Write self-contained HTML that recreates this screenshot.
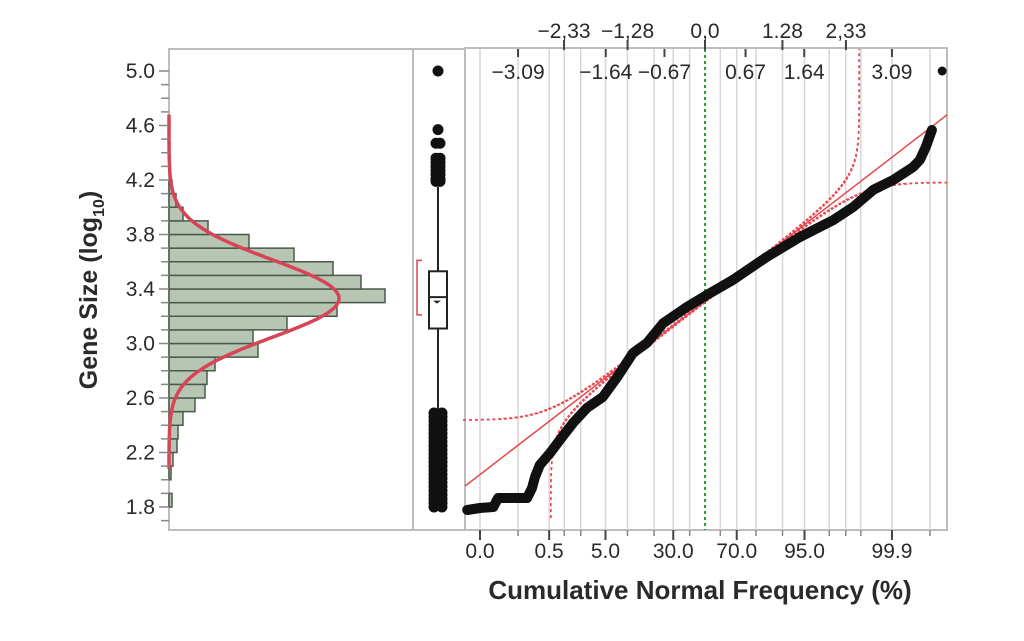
<!DOCTYPE html>
<html><head><meta charset="utf-8"><style>
html,body{margin:0;padding:0;background:#fff;}
svg text{font-family:"Liberation Sans",sans-serif;fill:#2a2a2a;}
</style></head><body>
<svg id="chart" width="1024" height="636" viewBox="0 0 1024 636" xmlns="http://www.w3.org/2000/svg">
<g id="frames"></g>
<g id="grid"></g>
<g id="hist"></g>
<g id="box"></g>
<g id="qq"></g>
<g id="axes"></g>
<text transform="translate(97,290) rotate(-90)" text-anchor="middle" font-size="25" font-weight="bold">Gene Size (log<tspan font-size="16" dy="7">10</tspan><tspan dy="-7">)</tspan></text>
<text x="700" y="599" text-anchor="middle" font-size="26" font-weight="bold">Cumulative Normal Frequency (%)</text>
</svg>
<script>
// ---- data ----
const binStarts = [1.8,1.9,2.0,2.1,2.2,2.3,2.4,2.5,2.6,2.7,2.8,2.9,3.0,3.1,3.2,3.3,3.4,3.5,3.6,3.7,3.8,3.9,4.0,4.1];
const binCounts = [3,0,2,4,8,9,14,26,36,38,46,89,84,118,168,216,192,164,125,80,39,14,7,3];
const binWidth = [0.1];
const normParams = [3.33, 0.285, 170]; // mean, sd, peak count
const boxStats = [2.51, 3.11, 3.34, 3.53, 4.15]; // whisker low, q1, median, q3, whisker high
const boxMean = [3.30];
const shortestHalf = [3.21, 3.61];
const outliers = [5.0,4.57,4.47,4.36,4.33,4.30,4.27,4.24,4.21,4.19,
 2.49,2.46,2.43,2.40,2.37,2.34,2.31,2.28,2.25,2.22,2.19,2.16,2.13,2.10,2.07,2.04,2.01,1.98,1.95,1.92,1.89,1.86,1.83,1.80];
const qqZ = [-3.93,-3.72,-3.50,-3.42,-2.94,-2.86,-2.81,-2.73,-2.56,-2.40,-2.18,-1.95,-1.69,-1.45,-1.19,-0.96,-0.69,-0.30,0.03,0.46,1.02,1.57,2.12,2.45,2.78,3.11,3.44,3.55,3.65,3.75,3.92];
const qqV = [1.778,1.793,1.800,1.866,1.866,1.939,2.020,2.108,2.196,2.292,2.417,2.527,2.607,2.754,2.930,3.004,3.150,3.268,3.356,3.466,3.635,3.782,3.906,4.002,4.127,4.200,4.295,4.347,4.442,4.567,5.0];
const fitLine = [3.31, 0.342]; // mean, sd
const bandWidth = [0.0054];
const yTicks = [1.8,2.2,2.6,3.0,3.4,3.8,4.2,4.6,5.0];
const gridPct = [0.01,0.1,0.5,1,2,5,10,20,30,40,60,70,80,90,95,98,99,99.5,99.9,99.99];
const bottomLabelPct = [0.01,0.5,5,30,70,95,99.9];
const bottomLabelText = ["0.0","0.5","5.0","30.0","70.0","95.0","99.9"];
const topMajor = [-2.33,-1.28,0.0,1.28,2.33];
const topMajorText = ["\u22122,33","\u22121,28","0,0","1.28","2,33"];
const topMinor = [-3.09,-1.64,-0.67,0.67,1.64,3.09];
const topMinorText = ["\u22123.09","\u22121.64","\u22120.67","0.67","1.64","3.09"];

// ---- scales ----
const NS="http://www.w3.org/2000/svg";
const Y = v => 71 + (5 - v) * 136.25;
const HX = c => 169 + c;
const QX = z => 705 + z * 60.5;
function invNorm(p){
 const a=[-39.69683028665376,220.9460984245205,-275.9285104469687,138.3577518672690,-30.66479806614716,2.506628277459239];
 const b=[-54.47609879822406,161.5858368580409,-155.6989798598866,66.80131188771972,-13.28068155288572];
 const c=[-0.007784894002430293,-0.3223964580411365,-2.400758277161838,-2.549732539343734,4.374664141464968,2.938163982698783];
 const d=[0.007784695709041462,0.3224671290700398,2.445134137142996,3.754408661907416];
 const pl=0.02425; let q,r;
 if(p<pl){q=Math.sqrt(-2*Math.log(p));return (((((c[0]*q+c[1])*q+c[2])*q+c[3])*q+c[4])*q+c[5])/((((d[0]*q+d[1])*q+d[2])*q+d[3])*q+1);}
 if(p>1-pl){q=Math.sqrt(-2*Math.log(1-p));return -(((((c[0]*q+c[1])*q+c[2])*q+c[3])*q+c[4])*q+c[5])/((((d[0]*q+d[1])*q+d[2])*q+d[3])*q+1);}
 q=p-0.5;r=q*q;return (((((a[0]*r+a[1])*r+a[2])*r+a[3])*r+a[4])*r+a[5])*q/(((((b[0]*r+b[1])*r+b[2])*r+b[3])*r+b[4])*r+1);
}
function cdf(z){const t=1/(1+0.2316419*Math.abs(z));const d=0.3989423*Math.exp(-z*z/2);let p=d*t*(0.3193815+t*(-0.3565638+t*(1.781478+t*(-1.821256+t*1.330274))));return z>0?1-p:p;}
function el(tag,attrs,parent){const e=document.createElementNS(NS,tag);for(const k in attrs)e.setAttribute(k,attrs[k]);parent.appendChild(e);return e;}
const $=id=>document.getElementById(id);

// frames
const fr=$('frames');
let f;
f=el('rect',{x:169,y:49,width:244,height:481,fill:'none',stroke:'#bdbdbd','stroke-width':2},fr);


f=el('rect',{x:413,y:49,width:52,height:481,fill:'none',stroke:'#bdbdbd','stroke-width':2},fr);


f=el('rect',{x:465,y:48,width:482,height:482,fill:'none',stroke:'#bdbdbd','stroke-width':2},fr);



// grid
const gr=$('grid');
gridPct.forEach(p=>{const x=QX(invNorm(p/100));
 const l=el('line',{x1:x,x2:x,y1:49,y2:530,stroke:'#d6d6d6','stroke-width':1.5},gr);
 
 
 const t=el('line',{x1:x,x2:x,y1:530,y2:536,stroke:'#888','stroke-width':1.5},gr);
 
 
});
let gl=el('line',{x1:QX(0),x2:QX(0),y1:49,y2:530,stroke:'#2ca02c','stroke-width':2,'stroke-dasharray':'3,3'},gr);



// histogram
const hg=$('hist');
binStarts.forEach((b,i)=>{if(binCounts[i]<=0)return;
 const r=el('rect',{x:HX(0),y:Y(b+binWidth[0]),width:binCounts[i],height:Y(b)-Y(b+binWidth[0]),fill:'#b7c6b3',stroke:'#4a5a4a','stroke-width':1.5},hg);
 
 
});
let pd='';for(let v=4.68;v>=2.08;v-=0.01){const c=normParams[2]*Math.exp(-Math.pow((v-normParams[0])/normParams[1],2)/2);pd+=(pd?'L':'M')+HX(c).toFixed(1)+','+Y(v).toFixed(1);}
let nc=el('path',{d:pd,fill:'none',stroke:'#d84457','stroke-width':3.5},hg);



// box plot
const bx=$('box');const cx=438;
let w=el('line',{x1:cx,x2:cx,y1:Y(boxStats[4]),y2:Y(boxStats[0]),stroke:'#222','stroke-width':2},bx);


let br=el('rect',{x:429,y:Y(boxStats[3]),width:18,height:Y(boxStats[1])-Y(boxStats[3]),fill:'#fff',stroke:'#222','stroke-width':2},bx);


let md=el('line',{x1:429,x2:447,y1:Y(boxStats[2]),y2:Y(boxStats[2]),stroke:'#222','stroke-width':2},bx);


let mm=el('path',{d:`M433,${Y(boxMean[0])-2}L441,${Y(boxMean[0])-2}L437,${Y(boxMean[0])+1}Z`,fill:'#222'},bx);


let sh=el('path',{d:`M422,${Y(shortestHalf[1])}H417V${Y(shortestHalf[0])}H422`,fill:'none',stroke:'#d84457','stroke-width':1.5},bx);


outliers.forEach((v,i)=>{
 const many = i>=2;
 const offs = i<10 ? [-2,2] : [-4,4];
 offs.forEach(o=>{
  if(!many && o>0) return;
  const c=el('circle',{cx:cx+(many?o:0),cy:Y(v),r:5.5,fill:'#111'},bx);
  
  
 });
});

// qq plot
const qg=$('qq');
let fl=el('line',{x1:465,x2:947,y1:Y(fitLine[0]+fitLine[1]*(465-705)/60.5),y2:Y(fitLine[0]+fitLine[1]*(947-705)/60.5),stroke:'#e8474f','stroke-width':1.5},qg);


[1,-1].forEach(s=>{let d='';let done=false;
 for(let z=-4;z<=4.001&&!done;z+=0.0002){let p=cdf(z)+s*bandWidth[0];let y;
  if(p>=1-1e-12){y=49;done=true;} else if(p<=1e-12){continue;}
  else {y=Y(fitLine[0]+fitLine[1]*invNorm(p));}
  if(y<49){y=49;done=true;}
  if(y>530){d='M'+QX(z).toFixed(1)+',530';continue;}
  d+=(d?'L':'M')+QX(z).toFixed(1)+','+y.toFixed(1);}
 const b=el('path',{d:d,fill:'none',stroke:'#e8474f','stroke-width':1.8,'stroke-dasharray':'3,3'},qg);
 
 
});
let qd='';qqZ.forEach((z,i)=>{if(i<qqZ.length-1)qd+=(qd?'L':'M')+QX(z).toFixed(1)+','+Y(qqV[i]).toFixed(1);});
let qp=el('path',{d:qd,fill:'none',stroke:'#111','stroke-width':10,'stroke-linejoin':'round','stroke-linecap':'round'},qg);


qqZ.forEach((z,i)=>{
 const c=el('circle',{cx:QX(z),cy:Y(qqV[i]),r:4.5,fill:'#111'},qg);
 
 
});

// axes
const ax=$('axes');
for(let v=1.7;v<=5.05;v+=0.1){const major=yTicks.some(t=>Math.abs(t-v)<0.001);
 const t=el('line',{x1:major?159:161,x2:169,y1:Y(v),y2:Y(v),stroke:'#888','stroke-width':1.5},ax);
 
 }
yTicks.forEach(v=>{const t=el('text',{x:155,y:Y(v)+7,'text-anchor':'end','font-size':21},ax);t.textContent=v.toFixed(1);
 
 });
bottomLabelPct.forEach((p,i)=>{const x=QX(invNorm(p/100));
 el('line',{x1:x,x2:x,y1:530,y2:540,stroke:'#444','stroke-width':2},ax);
 const t=el('text',{x:x,y:558,'text-anchor':'middle','font-size':21},ax);t.textContent=bottomLabelText[i];
 
 });
topMajor.forEach((z,i)=>{const x=QX(z);
 el('line',{x1:x,x2:x,y1:40,y2:50,stroke:'#444','stroke-width':2},ax);
 const t=el('text',{x:x,y:38,'text-anchor':'middle','font-size':21},ax);t.textContent=topMajorText[i];
 
 });
topMinor.forEach((z,i)=>{const x=QX(z);
 el('line',{x1:x,x2:x,y1:49,y2:57,stroke:'#444','stroke-width':2},ax);
 const t=el('text',{x:x,y:79,'text-anchor':'middle','font-size':21},ax);t.textContent=topMinorText[i];
 
 });
</script>
</body></html>
